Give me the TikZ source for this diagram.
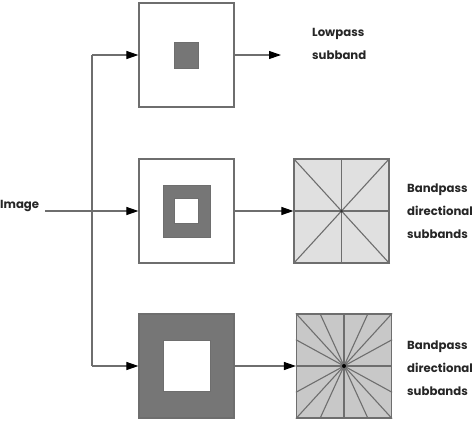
\documentclass[tikz,border=0pt]{standalone}
\usepackage{fontspec}
\setmainfont{Poppins}
\usetikzlibrary{arrows.meta,calc}
\definecolor{edgegray}{HTML}{6E6E6E}
\definecolor{darkfill}{HTML}{767676}
\definecolor{lightfan}{HTML}{E0E0E0}
\definecolor{midfan}{HTML}{C8C8C8}
\tikzset{
  box/.style={draw=edgegray, line width=1.2pt, fill=white, minimum width=95pt, minimum height=104pt, inner sep=0pt},
  darksq/.style={draw=edgegray, line width=1pt, fill=darkfill, inner sep=0pt},
  whitesq/.style={draw=edgegray, line width=1pt, fill=white, inner sep=0pt},
  fanbox/.style={draw=edgegray, line width=1.2pt, minimum width=95pt, minimum height=104pt, inner sep=0pt},
  ray/.style={draw=edgegray, line width=1.1pt},
  wire/.style={draw=edgegray, line width=1.1pt},
  conn/.style={wire, -{Triangle[length=12pt,width=8pt,color=black]}},
  lbl/.style={anchor=west, inner sep=0pt, align=left, font=\fontsize{11.7}{23}\selectfont\bfseries, text=black!85}
}
\begin{document}
\begin{tikzpicture}[x=1pt,y=-1pt]
\useasboundingbox (0,0) rectangle (474,421);
% filter boxes
\node[box] (b1) at (186.5,55) {};
\node[darksq, minimum width=24pt, minimum height=26pt] (b1in) at (b1) {};
\node[box] (b2) at (186.5,211) {};
\node[darksq, minimum width=47pt, minimum height=52pt] (b2d) at (b2) {};
\node[whitesq, minimum width=24pt, minimum height=25pt] (b2w) at (b2) {};
\node[box, fill=darkfill] (b3) at (186.5,366) {};
\node[whitesq, minimum width=47pt, minimum height=51pt] (b3w) at (b3) {};
% directional fan boxes
\node[fanbox, fill=lightfan] (f2) at (341.5,211) {};
\draw[ray] (f2.north west) -- (f2.south east);
\draw[ray] (f2.north east) -- (f2.south west);
\draw[ray] (f2.north) -- (f2.south);
\draw[ray] (f2.west) -- (f2.east);
\fill[black!80] (f2.center) circle (1.5pt);
\node[fanbox, fill=midfan] (f3) at (344,366) {};
\foreach \t in {0,0.25,0.5,0.75,1}{
  \draw[ray] ($(f3.north west)!\t!(f3.north east)$) -- ($(f3.south east)!\t!(f3.south west)$);
}
\foreach \s in {0.25,0.5,0.75}{
  \draw[ray] ($(f3.north west)!\s!(f3.south west)$) -- ($(f3.south east)!\s!(f3.north east)$);
}
\fill[black] (f3.center) circle (2pt);
\node[fanbox] at (f2) {};
\node[fanbox] at (f3) {};
% labels
\node[lbl] (img) at (0,206) {Image};
\node[lbl] (lp) at (312,44) {Lowpass\\subband};
\node[lbl] (bp2) at (407,211) {Bandpass\\directional\\subbands};
\node[lbl] (bp3) at (407,368) {Bandpass\\directional\\subbands};
% connectors
\coordinate (s) at (45,211);
\coordinate (v1) at (92,55);
\coordinate (v3) at (92,366);
\coordinate (lo) at (281,55);
\draw[wire] (v1) -- (v3);
\draw[conn] (v1) -- (b1.west);
\draw[conn] (v3) -- (b3.west);
\draw[conn] (s) -- (b2.west);
\draw[conn] (b1.east) -- (lo);
\draw[conn] (b2.east) -- (f2.west);
\draw[conn] (b3.east) -- (f3.west);
\end{tikzpicture}
\end{document}
